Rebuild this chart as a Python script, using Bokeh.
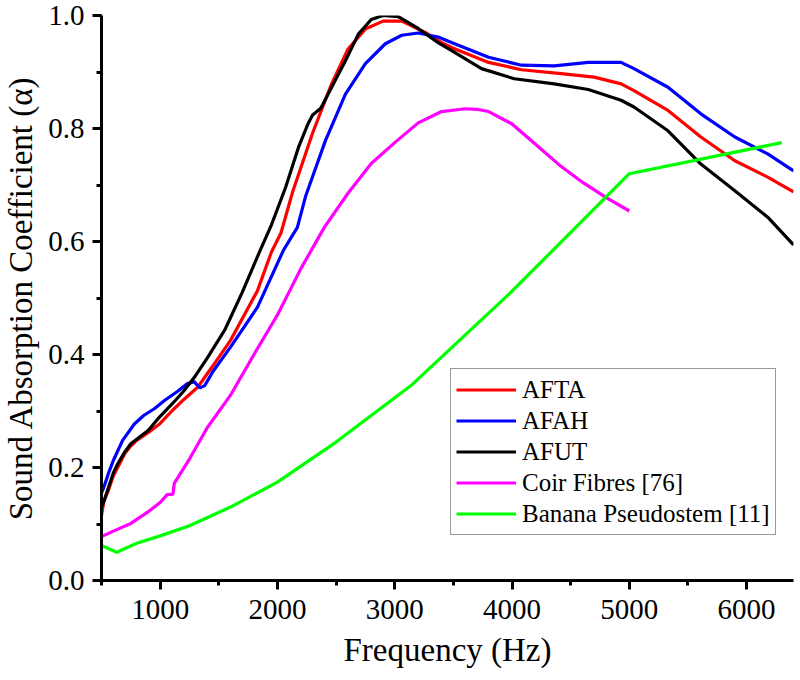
from bokeh.plotting import figure
from bokeh.models import Range1d, SingleIntervalTicker, PrintfTickFormatter, Legend, LegendItem
from bokeh.embed import file_html
from bokeh.resources import INLINE

# ---- data ----
afta_f = [500, 520, 560, 600, 650, 700, 750, 800, 900, 1000, 1100, 1200, 1320, 1450, 1600,
          1830, 1950, 2030, 2130, 2300, 2460, 2600, 2750, 2900, 3060, 3260, 3400, 3500,
          3800, 4080, 4420, 4700, 4930, 5040, 5330, 5610, 5900, 6180, 6400]
afta_a = [0.115, 0.140, 0.160, 0.185, 0.205, 0.225, 0.238, 0.248, 0.262, 0.278, 0.300, 0.320,
          0.342, 0.380, 0.425, 0.513, 0.582, 0.615, 0.688, 0.792, 0.878, 0.940, 0.976, 0.990,
          0.990, 0.970, 0.952, 0.942, 0.917, 0.904, 0.897, 0.891, 0.879, 0.867, 0.832, 0.785,
          0.743, 0.714, 0.688]

afah_f = [500, 520, 560, 600, 680, 780, 860, 950, 1040, 1150, 1230, 1290, 1310, 1340, 1380,
          1450, 1600, 1830, 2050, 2170, 2240, 2410, 2580, 2750, 2920, 3060, 3200, 3370, 3500,
          3800, 4080, 4360, 4650, 4930, 5040, 5330, 5610, 5900, 6180, 6400]
afah_a = [0.155, 0.165, 0.190, 0.212, 0.248, 0.277, 0.292, 0.304, 0.319, 0.335, 0.348, 0.352,
          0.347, 0.341, 0.345, 0.370, 0.413, 0.484, 0.584, 0.625, 0.680, 0.779, 0.861, 0.915,
          0.950, 0.965, 0.969, 0.962, 0.951, 0.926, 0.912, 0.911, 0.917, 0.917, 0.906, 0.873,
          0.826, 0.785, 0.755, 0.725]

afut_f = [500, 520, 560, 600, 640, 700, 750, 800, 900, 980, 1100, 1200, 1300, 1400, 1550,
          1700, 1850, 1950, 2070, 2180, 2260, 2300, 2370, 2460, 2580, 2690, 2800, 2900, 3030,
          3200, 3370, 3500, 3740, 4020, 4360, 4650, 4930, 5040, 5330, 5610, 5900, 6180, 6400]
afut_a = [0.130, 0.140, 0.165, 0.190, 0.207, 0.228, 0.242, 0.250, 0.266, 0.286, 0.312, 0.335,
          0.362, 0.393, 0.443, 0.510, 0.583, 0.630, 0.696, 0.767, 0.808, 0.824, 0.836, 0.872,
          0.920, 0.967, 0.993, 1.000, 0.998, 0.977, 0.952, 0.936, 0.906, 0.888, 0.879, 0.869,
          0.850, 0.838, 0.796, 0.737, 0.690, 0.643, 0.594]

coir_f = [500, 630, 750, 900, 1000, 1060, 1110, 1120, 1250, 1400, 1600, 1800, 2000, 2200,
          2400, 2600, 2800, 3000, 3200, 3400, 3600, 3700, 3800, 4000, 4200, 4400, 4600, 4800, 5000]
coir_a = [0.078, 0.090, 0.101, 0.122, 0.138, 0.152, 0.153, 0.172, 0.215, 0.270, 0.328, 0.400,
          0.470, 0.552, 0.625, 0.685, 0.738, 0.775, 0.810, 0.830, 0.835, 0.834, 0.830, 0.808,
          0.772, 0.736, 0.705, 0.678, 0.654]

banana_f = [500, 630, 800, 1000, 1250, 1600, 2000, 2500, 3150, 4000, 5000, 6300]
banana_a = [0.062, 0.050, 0.066, 0.079, 0.097, 0.130, 0.174, 0.245, 0.347, 0.512, 0.720, 0.775]

series_names = ["AFTA", "AFAH", "AFUT", "Coir Fibres [76]", "Banana Pseudostem [11]"]
series_colors = ["#FF0000", "#0000FF", "#000000", "#FF00FF", "#00FF00"]

FONT = "Liberation Serif"

p = figure(width=800, height=680, x_range=Range1d(500, 6400), y_range=Range1d(0, 1.0),
           output_backend="svg", toolbar_location=None,
           min_border_left=99, min_border_right=7, min_border_top=15, min_border_bottom=100)

p.outline_line_color = None
p.grid.grid_line_color = None
p.background_fill_color = "white"
p.border_fill_color = "white"

xs = [afta_f, afah_f, afut_f, coir_f, banana_f]
ys = [afta_a, afah_a, afut_a, coir_a, banana_a]
renderers = []
for fx, ay, c in zip(xs, ys, series_colors):
    r = p.line(fx, ay, line_color=c, line_width=3.2)
    renderers.append(r)

for ax in (p.xaxis[0], p.yaxis[0]):
    ax.axis_line_width = 3
    ax.axis_line_color = "black"
    ax.major_tick_line_width = 3
    ax.minor_tick_line_width = 3
    ax.major_tick_out = 9
    ax.major_tick_in = 0
    ax.minor_tick_out = 5
    ax.minor_tick_in = 0
    ax.major_label_text_font = FONT
    ax.major_label_text_font_size = "29px"
    ax.major_label_text_color = "black"
    ax.axis_label_text_font = FONT
    ax.axis_label_text_font_size = "33px"
    ax.axis_label_text_font_style = "normal"
    ax.axis_label_text_color = "black"

p.xaxis.ticker = SingleIntervalTicker(interval=1000, num_minor_ticks=2)
p.yaxis.ticker = SingleIntervalTicker(interval=0.2, num_minor_ticks=2)
p.yaxis.formatter = PrintfTickFormatter(format="%.1f")
p.xaxis.axis_label = "Frequency (Hz)"
p.yaxis.axis_label = "Sound Absorption Coefficient (α)"
p.xaxis.major_label_standoff = 10
p.yaxis.major_label_standoff = 8
p.xaxis.axis_label_standoff = 10
p.yaxis.axis_label_standoff = 6

legend = Legend(items=[LegendItem(label=n, renderers=[r]) for n, r in zip(series_names, renderers)],
                location=(349, 45))
legend.label_text_font = FONT
legend.label_text_font_size = "25px"
legend.label_text_color = "black"
legend.border_line_color = "#333333"
legend.border_line_width = 1.5
legend.background_fill_alpha = 1
legend.glyph_width = 60
legend.glyph_height = 31
legend.label_height = 31
legend.label_standoff = 6
legend.spacing = 0
legend.padding = 5
legend.margin = 0
p.add_layout(legend)

open("out.html", "w").write(file_html(p, INLINE))
